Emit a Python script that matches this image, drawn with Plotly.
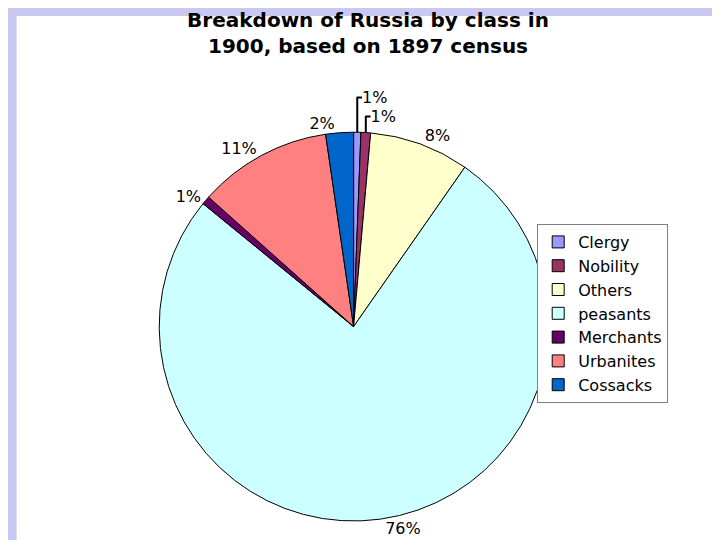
import plotly.graph_objects as go

labels = ["Clergy", "Nobility", "Others", "peasants", "Merchants", "Urbanites", "Cossacks"]
values = [0.6, 0.8, 8.3, 76.2, 0.7, 11.1, 2.3]
colors = ["#9999FF", "#993366", "#FFFFCC", "#CCFFFF", "#660066", "#FF8080", "#0066CC"]

fig = go.Figure(go.Pie(
    labels=labels, values=values, sort=False, direction="clockwise", rotation=0,
    marker=dict(colors=colors, line=dict(color="black", width=1)),
    textinfo="percent", texttemplate="%{percent:.0%}", textposition="outside",
    textfont=dict(family="DejaVu Sans", size=16, color="black"),
    domain=dict(x=[0.17, 0.79], y=[0.05, 0.77]),
))
fig.update_layout(
    width=720, height=540, margin=dict(l=0, r=0, t=0, b=0),
    paper_bgcolor="#C8C8F0",
    title=dict(text="<b>Breakdown of Russia by class in<br>1900, based on 1897 census</b>",
               x=0.5, y=0.965, xanchor="center", yanchor="top",
               font=dict(family="DejaVu Sans", size=20, color="black")),
    shapes=[dict(type="rect", xref="paper", yref="paper", x0=0.012, x1=0.988, y0=0.0, y1=0.985,
                 fillcolor="white", line=dict(width=0), layer="below")],
    legend=dict(x=0.735, y=0.6, xanchor="left", yanchor="top",
                bgcolor="white", bordercolor="#808080", borderwidth=1,
                font=dict(family="DejaVu Sans", size=16, color="black"),
                tracegroupgap=0, itemwidth=30),
)
fig.write_html("out.html")
